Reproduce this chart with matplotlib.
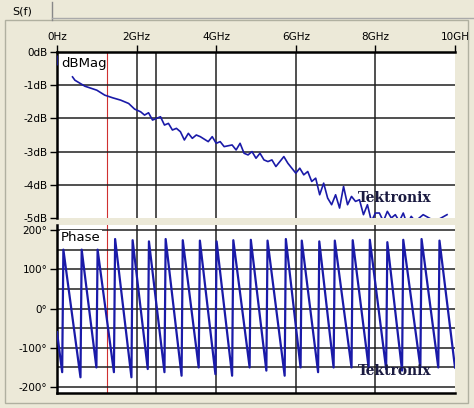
import matplotlib
matplotlib.use("Agg")
import matplotlib.pyplot as plt
from matplotlib.patches import Rectangle

# ---- data ----
mag_f = [0.0, 0.0, 0.2, 0.39, 0.45, 0.7, 0.8, 1.0, 1.2, 1.4, 1.6, 1.8, 1.95, 2.1, 2.2, 2.3, 2.4, 2.5, 2.6, 2.7, 2.8,
         2.9, 3.0, 3.1, 3.2, 3.3, 3.4, 3.5, 3.6, 3.8, 3.9, 4.0, 4.1, 4.2, 4.4, 4.5, 4.6, 4.7, 4.8, 4.9, 5.0,
         5.1, 5.2, 5.3, 5.4, 5.5, 5.6, 5.7, 5.8, 5.9, 6.0, 6.1, 6.2, 6.3, 6.4, 6.5, 6.6, 6.7, 6.8, 6.9, 7.0,
         7.1, 7.2, 7.3, 7.4, 7.5, 7.6, 7.7, 7.8, 7.9, 8.0, 8.1, 8.2, 8.3, 8.4, 8.5, 8.6, 8.7, 8.8, 8.9, 9.0,
         9.2, 9.5, 9.8]
mag_db = [-0.13, -0.38, float("nan"), -0.75, -0.85, -1.03, -1.07, -1.15, -1.3, -1.38, -1.45, -1.55, -1.72, -1.8, -1.9, -1.83, -2.05, -2.0, -1.95, -2.2, -2.15,
          -2.35, -2.3, -2.4, -2.65, -2.45, -2.6, -2.5, -2.55, -2.7, -2.55, -2.75, -2.7, -2.85, -2.8, -2.95, -2.75, -3.05, -3.1, -3.0, -3.2,
          -3.05, -3.25, -3.3, -3.25, -3.45, -3.3, -3.15, -3.35, -3.5, -3.65, -3.5, -3.7, -3.6, -3.9, -3.8, -4.3, -3.95, -4.4, -4.6, -4.3,
          -4.7, -4.05, -4.6, -4.35, -4.5, -4.45, -4.9, -4.6, -5.1, -4.85, -4.85, -5.1, -4.8, -5.0, -4.9, -5.1, -4.85, -5.2, -4.95, -5.1,
          -4.9, -5.1, -4.9]

jump_f = [0.16, 0.62, 1.02, 1.46, 1.90, 2.31, 2.73, 3.16, 3.59, 4.01, 4.43, 4.87, 5.29, 5.75, 6.15, 6.59, 6.98, 7.43,
          7.86, 8.30, 8.70, 9.16, 9.61]
peak = [150, 150, 150, 177, 174, 171, 177, 174, 173, 171, 174, 175, 173, 177, 173, 171, 173, 174, 175, 169, 175, 177, 173]
trough = [-162, -175, -150, -162, -175, -154, -162, -171, -150, -167, -171, -150, -158, -171, -150, -162, -150, -150,
          -150, -154, -158, -150, -150]
phase_start = -60
phase_end = -150

xticks = [0, 2, 4, 6, 8, 10]
xlabels = ["0Hz", "2GHz", "4GHz", "6GHz", "8GHz", "10GH"]
dbticks = [0, -1, -2, -3, -4, -5]
phticks = [200, 100, 0, -100, -200]

bg = "#ece9d8"
blue = "#1a1aa8"
W, H = 474, 408
fig = plt.figure(figsize=(W/100, H/100), dpi=100, facecolor=bg)

def ax_rect(l, t, r, b):
    return [l/W, 1-b/H, (r-l)/W, (b-t)/H]

# tab
fig.text(12/W, 1-11/H, "S(f)", fontsize=8, va="center", family="DejaVu Sans")
fig.add_artist(plt.Line2D([52/W, 52/W], [1-2/H, 1-20/H], color="#888888", lw=1))
fig.add_artist(plt.Line2D([52/W, 1], [1-18/H, 1-18/H], color="#aaaaaa", lw=1))
fig.add_artist(Rectangle((5/W, 1-403/H), 463/W, 383/H, fill=False, ec="#b0b0a0", lw=1))

def grid_v(ax):
    for x in [2, 4, 6, 8, 2.49]:
        ax.axvline(x, color="#202020", lw=1.1, zorder=1)
    ax.axvline(1.25, color="#d03030", lw=0.8, zorder=1)

# top
ax1 = fig.add_axes(ax_rect(57, 52, 455, 218))
ax1.set_xlim(0, 10); ax1.set_ylim(-5, 0)
grid_v(ax1)
for y in [-1, -2, -3, -4]:
    ax1.axhline(y, color="#202020", lw=1.1, zorder=1)
ax1.plot(mag_f, mag_db, color=blue, lw=1.2, zorder=3, clip_on=True)
ax1.set_xticks(xticks); ax1.set_xticklabels(xlabels, fontsize=7.5)
ax1.xaxis.tick_top()
ax1.set_yticks(dbticks); ax1.set_yticklabels([f"{v}dB" for v in dbticks], fontsize=7.5)
ax1.tick_params(length=5, width=1, pad=2)
ax1.text(0.1, -0.35, "dBMag", fontsize=9.5, va="center", zorder=5)
ax1.text(7.55, -4.4, "Tektronix", fontsize=10, family="DejaVu Serif", weight="bold", color="#1a1a40", va="center", zorder=5)
for s in ["left", "top"]:
    ax1.spines[s].set_linewidth(1.8)
for s in ["right", "bottom"]:
    ax1.spines[s].set_visible(False)

# bottom
ax2 = fig.add_axes(ax_rect(57, 225, 455, 393))
ax2.set_xlim(0, 10); ax2.set_ylim(-215, 212.7)
grid_v(ax2)
for y in [150, 100, 50, 0, -50, -100, -150, -200, 200]:
    ax2.axhline(y, color="#202020", lw=1.1, zorder=1)
px = [0]; py = [phase_start]
for f, tr, pk in zip(jump_f, trough, peak):
    px += [f - 0.03, f]; py += [tr, pk]
px.append(10); py.append(phase_end)
ax2.plot(px, py, color=blue, lw=1.6, zorder=3)
ax2.set_xticks([])
ax2.set_yticks(phticks); ax2.set_yticklabels([f"{v}°" for v in phticks], fontsize=7.5)
ax2.tick_params(length=5, width=1, pad=2)
ax2.text(0.1, 180, "Phase", fontsize=9.5, va="center", zorder=5,
         bbox=dict(fc="white", ec="none", pad=1))
ax2.text(7.55, -160, "Tektronix", fontsize=10, family="DejaVu Serif", weight="bold", color="#1a1a40", va="center", zorder=5)
for s in ["left", "bottom"]:
    ax2.spines[s].set_linewidth(1.8)
for s in ["right", "top"]:
    ax2.spines[s].set_visible(False)

fig.savefig("out.png", dpi=100, facecolor=bg)
